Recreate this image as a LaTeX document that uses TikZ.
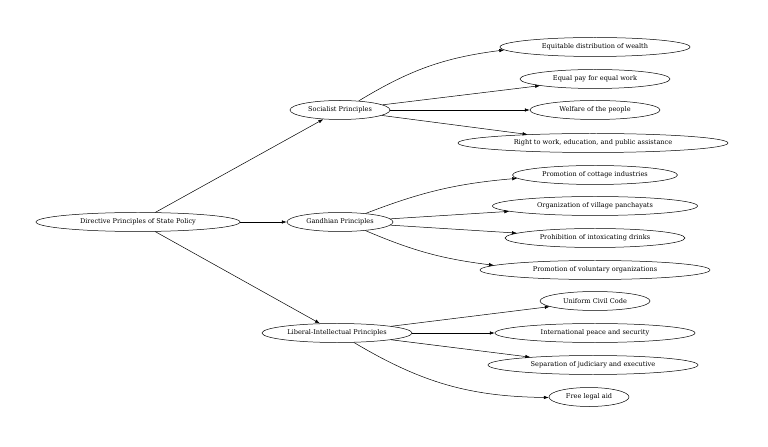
\documentclass[tikz,border=0pt]{standalone}
\usepackage{fontspec}
\setmainfont{DejaVu Serif}
\usetikzlibrary{shapes.geometric,arrows.meta}
\begin{document}
\begin{tikzpicture}[x=1bp,y=-1bp,
  n/.style={draw,ellipse,inner sep=0pt,minimum height=19bp,font=\fontsize{6.6}{8}\selectfont,line width=0.5pt},
  e/.style={-{Latex[length=5bp,width=3.5bp]},line width=0.5pt}]
\useasboundingbox (0,0) rectangle (768,447);
\node[n,minimum width=204bp] (r) at (138,222) {Directive Principles of State Policy};
\node[n,minimum width=100bp] (s) at (340,110) {Socialist Principles};
\node[n,minimum width=106bp] (g) at (340,222) {Gandhian Principles};
\node[n,minimum width=150bp] (l) at (337,333) {Liberal-Intellectual Principles};
\node[n,minimum width=190bp] (s1) at (595,47) {Equitable distribution of wealth};
\node[n,minimum width=150bp] (s2) at (595,79) {Equal pay for equal work};
\node[n,minimum width=130bp] (s3) at (595,110) {Welfare of the people};
\node[n,minimum width=270bp] (s4) at (593,143) {Right to work, education, and public assistance};
\node[n,minimum width=165bp] (g1) at (595,175) {Promotion of cottage industries};
\node[n,minimum width=205bp] (g2) at (595,206) {Organization of village panchayats};
\node[n,minimum width=180bp] (g3) at (595,238) {Prohibition of intoxicating drinks};
\node[n,minimum width=230bp] (g4) at (595,270) {Promotion of voluntary organizations};
\node[n,minimum width=110bp] (l1) at (595,301) {Uniform Civil Code};
\node[n,minimum width=200bp] (l2) at (595,333) {International peace and security};
\node[n,minimum width=210bp] (l3) at (593,365) {Separation of judiciary and executive};
\node[n,minimum width=80bp] (l4) at (589,397) {Free legal aid};
\draw[e] (r) -- (s);
\draw[e] (r) -- (g);
\draw[e] (r) -- (l);
\draw[e] (s) to[bend left=12] (s1);
\draw[e] (s) -- (s2);
\draw[e] (s) -- (s3);
\draw[e] (s) -- (s4);
\draw[e] (g) to[bend left=8] (g1);
\draw[e] (g) -- (g2);
\draw[e] (g) -- (g3);
\draw[e] (g) to[bend right=8] (g4);
\draw[e] (l) -- (l1);
\draw[e] (l) -- (l2);
\draw[e] (l) -- (l3);
\draw[e] (l) to[bend right=15] (l4);
\end{tikzpicture}
\end{document}
